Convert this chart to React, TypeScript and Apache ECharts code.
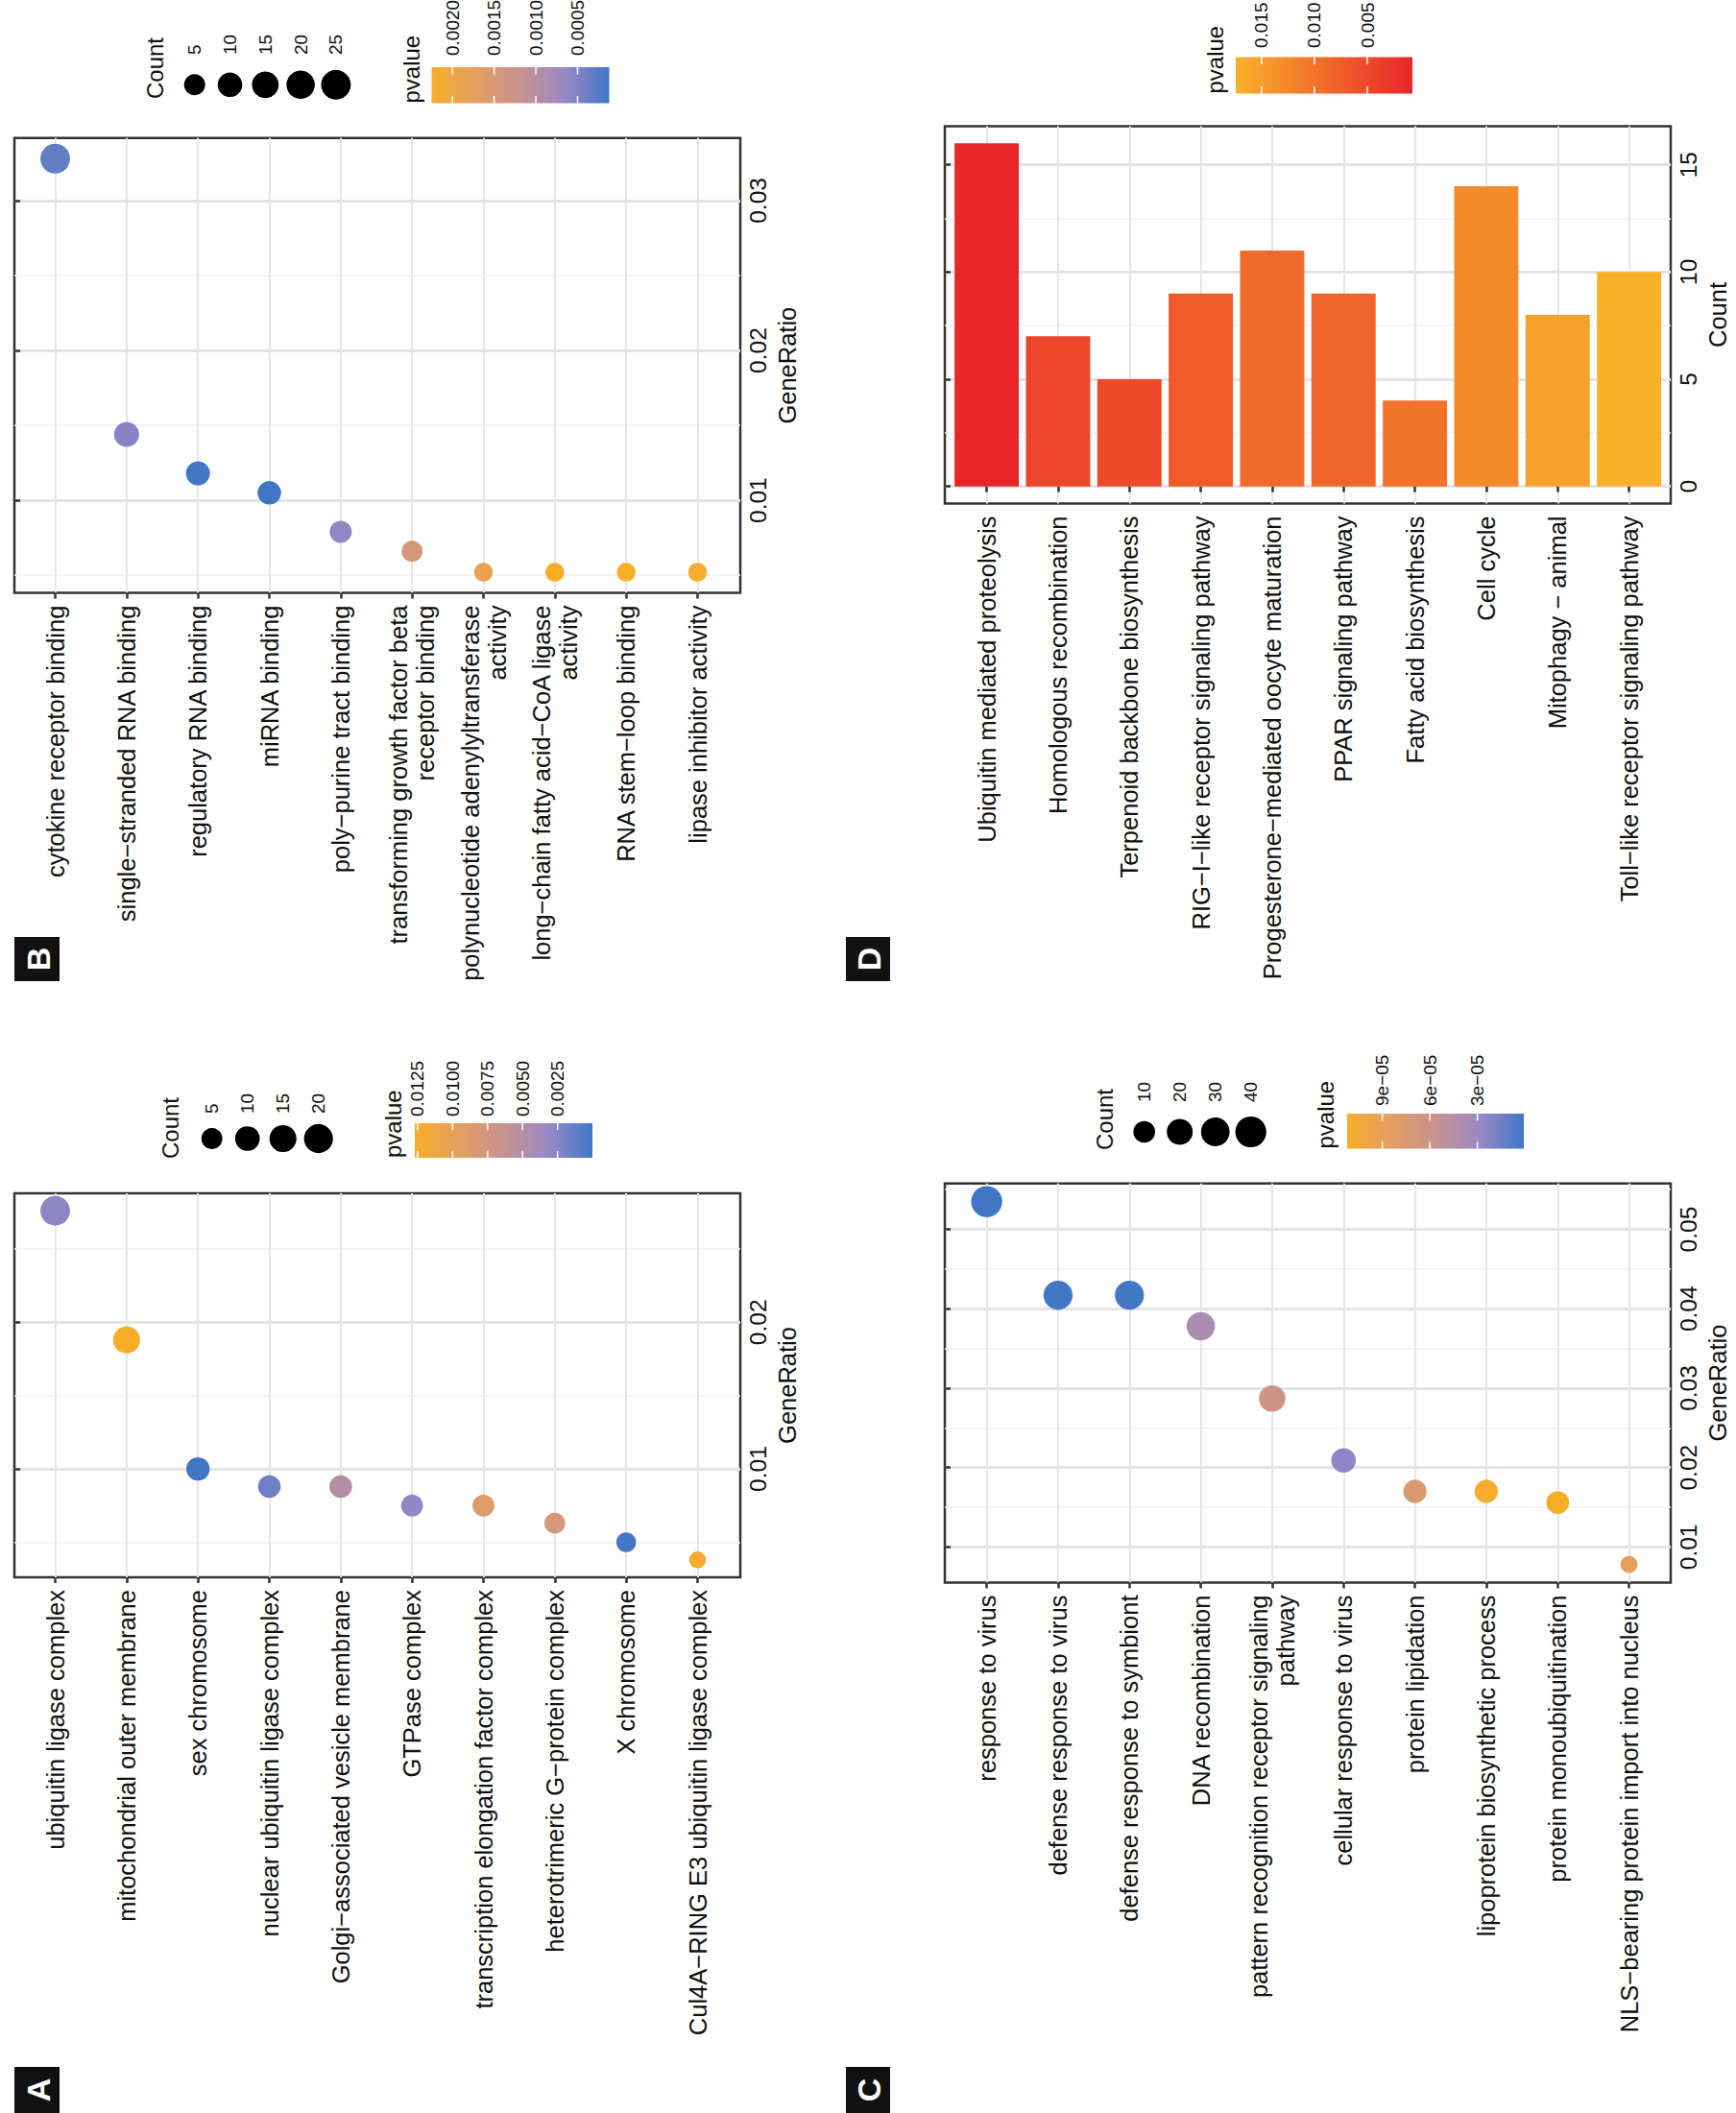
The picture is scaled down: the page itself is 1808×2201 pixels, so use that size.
import React, { useEffect, useRef } from "react";
import * as echarts from "echarts";

const FONT = '"Liberation Sans", Arial, Helvetica, sans-serif';
const MINUS = "\u2212";

// ---------------- Panel A ----------------
const aCategories = [
  "ubiquitin ligase complex",
  "mitochondrial outer membrane",
  "sex chromosome",
  "nuclear ubiquitin ligase complex",
  `Golgi${MINUS}associated vesicle membrane`,
  "GTPase complex",
  "transcription elongation factor complex",
  `heterotrimeric G${MINUS}protein complex`,
  "X chromosome",
  `Cul4A${MINUS}RING E3 ubiquitin ligase complex`,
];
const aGeneRatio = [0.0276, 0.0188, 0.01, 0.0088, 0.0088, 0.0075, 0.0075, 0.0063, 0.005, 0.0038];
const aCount = [22, 15, 8, 7, 7, 6, 6, 5, 4, 3];
const aPvalue = [0.0028, 0.0127, 0.00001, 0.0017, 0.0051, 0.0029, 0.0089, 0.0079, 0.0002, 0.0124];
const aRatioTicks = [0.01, 0.02];
const aRatioMinorTicks = [0.005, 0.015, 0.025];
const aCountLegend = [5, 10, 15, 20];
const aPTicks = [0.0125, 0.01, 0.0075, 0.005, 0.0025];
const aPTickLabels = ["0.0125", "0.0100", "0.0075", "0.0050", "0.0025"];

// ---------------- Panel B ----------------
const bCategories = [
  "cytokine receptor binding",
  `single${MINUS}stranded RNA binding`,
  "regulatory RNA binding",
  "miRNA binding",
  `poly${MINUS}purine tract binding`,
  "transforming growth factor beta\nreceptor binding",
  "polynucleotide adenylyltransferase\nactivity",
  `long${MINUS}chain fatty acid${MINUS}CoA ligase\nactivity`,
  `RNA stem${MINUS}loop binding`,
  "lipase inhibitor activity",
];
const bGeneRatio = [0.0328, 0.0144, 0.0118, 0.0105, 0.0079, 0.0066, 0.0052, 0.0052, 0.0052, 0.0052];
const bCount = [25, 11, 9, 8, 6, 5, 4, 4, 4, 4];
const bPvalue = [0.00032, 0.00054, 0.00013, 0.00012, 0.00062, 0.00144, 0.00186, 0.00225, 0.00224, 0.00223];
const bRatioTicks = [0.01, 0.02, 0.03];
const bRatioMinorTicks = [0.005, 0.015, 0.025];
const bCountLegend = [5, 10, 15, 20, 25];
const bPTicks = [0.002, 0.0015, 0.001, 0.0005];
const bPTickLabels = ["0.0020", "0.0015", "0.0010", "0.0005"];

// ---------------- Panel C ----------------
const cCategories = [
  "response to virus",
  "defense response to virus",
  "defense response to symbiont",
  "DNA recombination",
  "pattern recognition receptor signaling\npathway",
  "cellular response to virus",
  "protein lipidation",
  "lipoprotein biosynthetic process",
  "protein monoubiquitination",
  `NLS${MINUS}bearing protein import into nucleus`,
];
const cGeneRatio = [0.0535, 0.0417, 0.0417, 0.0378, 0.0287, 0.0209, 0.017, 0.017, 0.0156, 0.0078];
const cCount = [41, 32, 32, 29, 22, 16, 13, 13, 12, 6];
const cPvalue = [0.0000007, 0.0000015, 0.000002, 0.000039, 0.000062, 0.000025, 0.000075, 0.00011, 0.0001122, 0.000087];
const cRatioTicks = [0.01, 0.02, 0.03, 0.04, 0.05];
const cRatioMinorTicks = [0.015, 0.025, 0.035, 0.045, 0.055];
const cCountLegend = [10, 20, 30, 40];
const cPTicks = [0.00009, 0.00006, 0.00003];
const cPTickLabels = [`9e${MINUS}05`, `6e${MINUS}05`, `3e${MINUS}05`];

// ---------------- Panel D ----------------
const dCategories = [
  "Ubiquitin mediated proteolysis",
  "Homologous recombination",
  "Terpenoid backbone biosynthesis",
  `RIG${MINUS}I${MINUS}like receptor signaling pathway`,
  `Progesterone${MINUS}mediated oocyte maturation`,
  "PPAR signaling pathway",
  "Fatty acid biosynthesis",
  "Cell cycle",
  `Mitophagy ${MINUS} animal`,
  `Toll${MINUS}like receptor signaling pathway`,
];
const dCount = [16, 7, 5, 9, 11, 9, 4, 14, 8, 10];
const dPvalue = [0.00073, 0.0045, 0.0051, 0.007, 0.0089, 0.0083, 0.0099, 0.0128, 0.0154, 0.01745];
const dCountTicks = [0, 5, 10, 15];
const dCountMinorTicks = [2.5, 7.5, 12.5];
const dPTicks = [0.015, 0.01, 0.005];
const dPTickLabels = ["0.015", "0.010", "0.005"];

// ---------------- styles / layout ----------------
const TEXT = "#111111";
const BORDER = "#333333";
const GRID_MAJOR = { color: "#e3e3e3", width: 3 };
const GRID_MINOR = { color: "#f0f0f0", width: 1.5 };
const GRID_CAT = { color: "#e6e6e6", width: 2 };
const BLUE_ORANGE = ["#3F77C5", "#9A88C6", "#C79290", "#E39E60", "#F8AD2A"]; // low p -> high p
const RED_ORANGE = ["#E8262A", "#F9B12A"]; // low p -> high p
const TICK_FONT = 24.5;
const LEGEND_LABEL_FONT = 19;
const LEGEND_TITLE_FONT = 24;

const BOX_A = { left: 15, right: 771, top: 1243, bottom: 1643, first: 57.5, last: 726.5 };
const BOX_B = { left: 15, right: 771, top: 143.7, bottom: 617.6, first: 57.5, last: 726.5 };
const BOX_C = { left: 984, right: 1740, top: 1232.7, bottom: 1648.5, first: 1027.6, last: 1696.6 };
const BOX_D = { left: 984, right: 1740, top: 131.5, bottom: 524.5, first: 1027.6, last: 1696.6 };

function expand(lo: number, hi: number): [number, number] {
  const r = hi - lo;
  return [lo - 0.05 * r, hi + 0.05 * r];
}

function makeSize(counts: number[], dMin: number, dMax: number) {
  const cMin = Math.min(...counts);
  const cMax = Math.max(...counts);
  return (c: number) => dMin + (dMax - dMin) * Math.sqrt(Math.max(0, (c - cMin) / (cMax - cMin)));
}

const sizeA = makeSize(aCount, 17.5, 31);
const sizeB = makeSize(bCount, 19.5, 31);
const sizeC = makeSize(cCount, 17.8, 32.4);

function vText(text: string, x: number, y: number, fontSize: number, align: string = "left", extra: any = {}) {
  return {
    type: "text",
    x,
    y,
    rotation: Math.PI / 2,
    silent: true,
    z: 10,
    style: { text, fontSize, fontFamily: FONT, fill: TEXT, align, verticalAlign: "middle", ...extra },
  };
}

function countLegend(counts: number[], sizeOf: (c: number) => number, titleX: number, titleBottom: number, startX: number, step: number, cy: number, labelBottom: number) {
  const els: any[] = [vText("Count", titleX, titleBottom, LEGEND_TITLE_FONT)];
  counts.forEach((c, i) => {
    const cx = startX + i * step;
    els.push({ type: "circle", silent: true, z: 10, shape: { cx, cy, r: sizeOf(c) / 2 }, style: { fill: "#000" } });
    els.push(vText(String(c), cx, labelBottom, LEGEND_LABEL_FONT));
  });
  return els;
}

function colorbar(pvals: number[], colorsLowToHigh: string[], ticks: number[], labels: string[], x0: number, x1: number, y0: number, y1: number, titleX: number, labelBottom: number) {
  const pMin = Math.min(...pvals);
  const pMax = Math.max(...pvals);
  const hiToLow = [...colorsLowToHigh].reverse();
  const els: any[] = [];
  els.push({
    type: "rect",
    silent: true,
    z: 10,
    shape: { x: x0, y: y0, width: x1 - x0, height: y1 - y0 },
    style: {
      fill: new echarts.graphic.LinearGradient(
        0, 0, 1, 0,
        hiToLow.map((c, i) => ({ offset: i / (hiToLow.length - 1), color: c }))
      ),
    },
  });
  const th = (y1 - y0) / 5;
  ticks.forEach((v, i) => {
    const x = x0 + ((pMax - v) / (pMax - pMin)) * (x1 - x0);
    els.push({ type: "line", silent: true, z: 11, shape: { x1: x, y1: y0, x2: x, y2: y0 + th }, style: { stroke: "#fff", lineWidth: 1.5 } });
    els.push({ type: "line", silent: true, z: 11, shape: { x1: x, y1: y1 - th, x2: x, y2: y1 }, style: { stroke: "#fff", lineWidth: 1.5 } });
    els.push(vText(labels[i], x, labelBottom, LEGEND_LABEL_FONT));
  });
  els.push(vText("pvalue", titleX, y1, LEGEND_TITLE_FONT));
  return els;
}

function panelLetter(t: string, x0: number, y0: number, w: number, h: number) {
  return [
    { type: "rect", silent: true, z: 10, shape: { x: x0, y: y0, width: w, height: h }, style: { fill: "#111" } },
    vText(t, x0 + w / 2 + 1, y0 + h / 2, 34, "center", { fill: "#fff", fontWeight: "bold" }),
  ];
}

function buildOption() {
  const panels: any[] = [
    { box: BOX_A, cats: aCategories, values: aGeneRatio, p: aPvalue, count: aCount, ext: expand(Math.min(...aGeneRatio), Math.max(...aGeneRatio)), major: aRatioTicks, minor: aRatioMinorTicks, name: "GeneRatio", kind: "dot", colors: BLUE_ORANGE, size: sizeA },
    { box: BOX_B, cats: bCategories, values: bGeneRatio, p: bPvalue, count: bCount, ext: expand(Math.min(...bGeneRatio), Math.max(...bGeneRatio)), major: bRatioTicks, minor: bRatioMinorTicks, name: "GeneRatio", kind: "dot", colors: BLUE_ORANGE, size: sizeB },
    { box: BOX_C, cats: cCategories, values: cGeneRatio, p: cPvalue, count: cCount, ext: expand(Math.min(...cGeneRatio), Math.max(...cGeneRatio)), major: cRatioTicks, minor: cRatioMinorTicks, name: "GeneRatio", kind: "dot", colors: BLUE_ORANGE, size: sizeC },
    { box: BOX_D, cats: dCategories, values: dCount, p: dPvalue, count: dCount, ext: expand(0, Math.max(...dCount)), major: dCountTicks, minor: dCountMinorTicks, name: "Count", kind: "bar", colors: RED_ORANGE },
  ];

  const grid: any[] = [];
  const xAxis: any[] = [];
  const yAxis: any[] = [];
  const series: any[] = [];
  const visualMap: any[] = [];

  panels.forEach((pn, k) => {
    const b = pn.box;
    const [yMin, yMax] = pn.ext;
    grid.push({
      left: b.left, top: b.top, width: b.right - b.left, height: b.bottom - b.top,
      show: true, borderColor: BORDER, borderWidth: 2.5, backgroundColor: "transparent",
      containLabel: false, outerBoundsMode: "none",
    });
    grid.push({
      left: b.first, top: b.top, width: b.last - b.first, height: b.bottom - b.top,
      show: false, containLabel: false, outerBoundsMode: "none",
    });
    xAxis.push({ gridIndex: 2 * k, type: "value", min: 0, max: 1, show: false });
    xAxis.push({
      gridIndex: 2 * k + 1,
      type: "category",
      data: pn.cats,
      boundaryGap: false,
      axisLine: { show: false },
      axisTick: { show: true, interval: 0, length: 6, lineStyle: { color: BORDER, width: 2.5 } },
      axisLabel: { interval: 0, rotate: 90, margin: 13, fontSize: 25.5, lineHeight: 28, fontFamily: FONT, color: TEXT },
      splitLine: { show: true, interval: 0, lineStyle: GRID_CAT },
    });
    yAxis.push({
      gridIndex: 2 * k,
      type: "value",
      position: "right",
      min: yMin,
      max: yMax,
      axisLine: { show: false },
      axisTick: { show: true, length: 6, lineStyle: { color: BORDER, width: 2.5 }, customValues: pn.major },
      axisLabel: {
        customValues: pn.major,
        rotate: 90,
        margin: 6,
        fontSize: TICK_FONT,
        fontFamily: FONT,
        color: TEXT,
        formatter: (v: number) => `${+Number(v).toFixed(4)}`,
      },
      splitLine: { show: true, lineStyle: GRID_MAJOR },
      name: pn.name,
      nameLocation: "middle",
      nameRotate: 90,
      nameGap: 36,
      nameTextStyle: { fontSize: 25.5, fontFamily: FONT, color: TEXT },
    });
    yAxis.push({
      gridIndex: 2 * k,
      type: "value",
      position: "left",
      min: yMin,
      max: yMax,
      axisLine: { show: false },
      axisTick: { show: false, customValues: pn.minor },
      axisLabel: { show: false, customValues: pn.minor },
      splitLine: { show: true, lineStyle: GRID_MINOR },
    });
    yAxis.push({ gridIndex: 2 * k + 1, type: "value", min: yMin, max: yMax, show: false });

    if (pn.kind === "dot") {
      const sizeOf = pn.size;
      series.push({
        type: "scatter",
        xAxisIndex: 2 * k + 1,
        yAxisIndex: 3 * k + 2,
        clip: false,
        z: 5,
        data: pn.cats.map((_: string, i: number) => [i, pn.values[i], pn.p[i], pn.count[i]]),
        encode: { x: 0, y: 1 },
        symbolSize: (v: number[]) => sizeOf(v[3]),
        itemStyle: { opacity: 1 },
      });
    } else {
      series.push({
        type: "bar",
        xAxisIndex: 2 * k + 1,
        yAxisIndex: 3 * k + 2,
        clip: false,
        z: 5,
        barWidth: "90%",
        data: pn.cats.map((_: string, i: number) => [i, pn.values[i], pn.p[i]]),
        encode: { x: 0, y: 1 },
      });
    }
    visualMap.push({
      type: "continuous",
      show: false,
      seriesIndex: k,
      dimension: 2,
      min: Math.min(...pn.p),
      max: Math.max(...pn.p),
      inRange: { color: pn.colors },
    });
  });

  const graphic: any[] = [
    // Panel B legend
    ...countLegend(bCountLegend, sizeB, 161.7, 103, 202.7, 36.8, 88.3, 57),
    ...colorbar(bPvalue, BLUE_ORANGE, bPTicks, bPTickLabels, 449.5, 634.5, 70, 107.5, 428.3, 58),
    // Panel A legend
    ...countLegend(aCountLegend, sizeA, 177, 1207, 220.7, 37, 1186, 1160),
    ...colorbar(aPvalue, BLUE_ORANGE, aPTicks, aPTickLabels, 432, 617, 1170, 1206, 409, 1163),
    // Panel C legend
    ...countLegend(cCountLegend, sizeC, 1150, 1198, 1191.7, 37, 1179, 1148),
    ...colorbar(cPvalue, BLUE_ORANGE, cPTicks, cPTickLabels, 1403, 1587, 1160, 1196.5, 1380, 1152),
    // Panel D legend
    ...colorbar(dPvalue, RED_ORANGE, dPTicks, dPTickLabels, 1287, 1471, 59.5, 97.5, 1265.6, 50),
    // Panel letters
    ...panelLetter("A", 15, 2153, 47, 48),
    ...panelLetter("B", 15, 976, 47, 46),
    ...panelLetter("C", 881, 2153, 46, 48),
    ...panelLetter("D", 881, 976, 46, 46),
  ];

  return {
    animation: false,
    backgroundColor: "#ffffff",
    textStyle: { fontFamily: FONT },
    grid,
    xAxis,
    yAxis,
    series,
    visualMap,
    graphic,
  };
}

export default function App() {
  const ref = useRef<HTMLDivElement>(null);
  useEffect(() => {
    if (!ref.current) return;
    const chart = echarts.init(ref.current, undefined, { renderer: "svg" });
    chart.setOption(buildOption() as any);
    return () => chart.dispose();
  }, []);
  return (
    <div
      ref={ref}
      style={{ position: "absolute", left: 0, top: 0, width: 1808, height: 2201, background: "#ffffff" }}
    />
  );
}
